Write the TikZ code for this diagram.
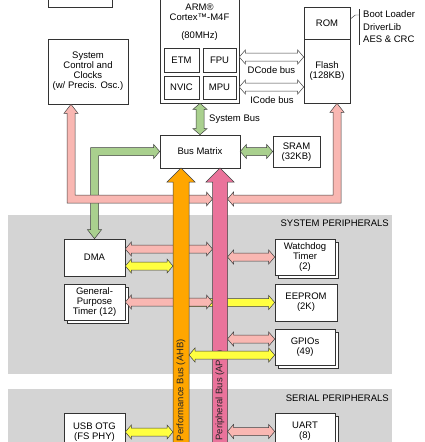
\documentclass[tikz,border=0pt]{standalone}
\usepackage{fontspec}
\setmainfont{Liberation Sans}
\usetikzlibrary{calc, positioning, shadows}

\definecolor{PanelGray}{RGB}{212,212,212}
\definecolor{LinkPink}{RGB}{249,183,178}
\definecolor{BusPink}{RGB}{234,115,155}
\definecolor{BusOrange}{RGB}{255,166,0}
\definecolor{LinkYellow}{RGB}{255,255,64}
\definecolor{LinkGreen}{RGB}{169,208,142}

\tikzset{
  blk/.style={draw=black!80, fill=white, line width=0.6pt, align=center, inner sep=0pt},
  stackbox/.style={blk, copy shadow={shadow xshift=3pt, shadow yshift=-3pt, draw=black!80, fill=white, line width=0.6pt}},
  lbl/.style={inner sep=0pt},
  fat/.style={draw=black!75, line width=0.5pt, line join=miter},
}

% block arrows: #1 left/top end, #2 right/bottom end, #3 fill
\newcommand\hdbl[3]{\filldraw[fat,fill=#3] (#1) -- ++(6,-7) -- ++(0,3) -- ($(#2)+(-6,-4)$) -- ++(0,-3) -- (#2) -- ++(-6,7) -- ++(0,-3) -- ($(#1)+(6,4)$) -- ++(0,3) -- cycle;}
\newcommand\hsgl[3]{\filldraw[fat,fill=#3] ($(#1)+(0,-4)$) -- ($(#2)+(-6,-4)$) -- ++(0,-3) -- (#2) -- ++(-6,7) -- ++(0,-3) -- ($(#1)+(0,4)$) -- cycle;}
\newcommand\vdbl[3]{\filldraw[fat,fill=#3] (#1) -- ++(7,6) -- ++(-3,0) -- ($(#2)+(4,-6)$) -- ++(3,0) -- (#2) -- ++(-7,-6) -- ++(3,0) -- ($(#1)+(-4,6)$) -- ++(-3,0) -- cycle;}

\begin{document}
\begin{tikzpicture}[x=1pt, y=-1pt, font=\fontsize{9.5}{10}\selectfont]
  \useasboundingbox (0,0) rectangle (424,442);
  \clip (0,0) rectangle (424,442);
  % panels
  \fill[PanelGray] (8,215) rectangle (392,374);
  \fill[PanelGray] (8,389) rectangle (392,460);
  \node[lbl, anchor=east] (sysper) at (389,223) {SYSTEM PERIPHERALS};
  \node[lbl, anchor=east] (serper) at (389,398) {SERIAL PERIPHERALS};
  % core, memories
  \node[blk, minimum width=64, minimum height=17] (topbox) at (80,-1.5) {};
  \node[blk, minimum width=79, minimum height=113] (cpu) at (199.5,46.5) {};
  \node[lbl, align=center] (cpuname) at (199.5,12.5) {ARM®\\Cortex™-M4F};
  \node[lbl] (cpuclk) at (199.5,36.5) {(80MHz)};
  \node[blk, minimum width=35, minimum height=24] (etm) at (181.5,60) {ETM};
  \node[blk, minimum width=33, minimum height=24] (fpu) at (219.5,60) {FPU};
  \node[blk, minimum width=35, minimum height=23] (nvic) at (181.5,87.5) {NVIC};
  \node[blk, minimum width=33, minimum height=23] (mpu) at (219.5,87.5) {MPU};
  \node[blk, minimum width=80, minimum height=65] (sysc) at (88,71.5) {System\\Control and\\Clocks\\(w/ Precis. Osc.)};
  \node[blk, minimum width=46, minimum height=32] (rom) at (327,23) {ROM};
  \node[blk, minimum width=46, minimum height=64] (flash) at (327,71) {Flash\\(128KB)};
  \node[blk, minimum width=80, minimum height=33] (bm) at (200,151.5) {Bus Matrix};
  \node[blk, minimum width=47, minimum height=31] (sram) at (296.5,152) {SRAM\\(32KB)};
  \node[lbl, anchor=west] (boot) at (363,14) {Boot Loader};
  \node[lbl, anchor=west] (drvlib) at (363,27) {DriverLib};
  \node[lbl, anchor=west] (aescrc) at (363,39.5) {AES \& CRC};
  \draw[black!80] ($(rom.east)+(0,-4)$) -- ++(5,-4) -- ++(4,0);
  \draw[black!80] (359,9) -- (359,45);
  \node[lbl] (dcode) at (271.5,70) {DCode bus};
  \node[lbl] (icode) at (272,100.5) {ICode bus};
  \node[lbl, anchor=west] (sysbus) at (209,119) {System Bus};
  % peripherals
  \node[blk, minimum width=61, minimum height=37] (dma) at (94.5,257.5) {DMA};
  \node[stackbox, minimum width=61, minimum height=36] (gpt) at (94.5,302) {General-\\Purpose\\Timer (12)};
  \node[blk, minimum width=61, minimum height=38] (usb) at (94.5,432) {USB OTG\\(FS PHY)};
  \node[stackbox, minimum width=60, minimum height=36] (wdt) at (305,257) {Watchdog\\Timer\\(2)};
  \node[blk, minimum width=62, minimum height=37] (eeprom) at (306,302.5) {EEPROM\\(2K)};
  \node[stackbox, minimum width=60, minimum height=36] (gpio) at (305,347) {GPIOs\\(49)};
  \node[stackbox, minimum width=60, minimum height=36] (uart) at (305,431.5) {UART\\(8)};
  % bus coordinates
  \coordinate (ahb) at (181,168);
  \coordinate (apb) at (220,168);
  \coordinate (ahbL) at (173,0);
  \coordinate (ahbR) at (189,0);
  \coordinate (apbL) at (212.5,0);
  \coordinate (apbR) at (227.5,0);
  \coordinate (colS) at (71,0);
  \coordinate (colF) at (337,0);
  \coordinate (rowP) at (0,199);
  \coordinate (rowD) at (0,57);
  \coordinate (rowI) at (0,87);
  \coordinate (rowA) at (0,249);
  \coordinate (rowB) at (0,266);
  \coordinate (rowG) at (0,339);
  \coordinate (rowH) at (0,355);
  % core links
  \hdbl{cpu.east |- rowD}{flash.west |- rowD}{white}
  \hdbl{cpu.east |- rowI}{flash.west |- rowI}{white}
  \vdbl{bm.north |- cpu.south}{bm.north}{LinkGreen}
  \hdbl{bm.east}{sram.west |- bm.east}{LinkGreen}
  \filldraw[fat, fill=LinkGreen] (bm.west) -- ++(-6,7) -- ++(0,-3) -- ($(dma.north |- bm.west)+(4,4)$) -- ($(dma.north)+(4,-9)$) -- ++(3,0) -- (dma.north) -- ++(-7,-9) -- ++(3,0) -- ($(dma.north |- bm.west)+(-4,-4)$) -- ($(bm.west)+(-6,-4)$) -- ++(0,-3) -- cycle;
  \filldraw[fat, fill=LinkPink] (colS |- sysc.south) -- ++(7,9) -- ++(-3,0) -- ($(colS |- rowP)+(4,-4)$) -- ($(apbL |- rowP)+(-6,-4)$) -- ++(0,-3) -- (apbL |- rowP) -- ++(-6,7) -- ++(0,-3) -- ($(colS |- rowP)+(-4,4)$) -- ($(colS |- sysc.south)+(-4,9)$) -- ++(-3,0) -- cycle;
  \filldraw[fat, fill=LinkPink] (colF |- flash.south) -- ++(7,9) -- ++(-3,0) -- ($(colF |- rowP)+(4,4)$) -- ($(apbR |- rowP)+(6,4)$) -- ++(0,3) -- (apbR |- rowP) -- ++(6,-7) -- ++(0,3) -- ($(colF |- rowP)+(-4,-4)$) -- ($(colF |- flash.south)+(-4,9)$) -- ++(-3,0) -- cycle;
  % links behind the buses
  \hdbl{dma.east |- rowA}{apbL |- rowA}{LinkPink}
  \hsgl{ahbR |- eeprom.west}{eeprom.west}{LinkYellow}
  \hdbl{gpt.east}{apbL |- gpt.east}{LinkPink}
  % buses
  \filldraw[fat, fill=BusOrange] (ahb) -- ++(14,14) -- ++(-6,0) -- ++(0,300) -- ++(-16,0) -- ++(0,-300) -- ++(-6,0) -- cycle;
  \filldraw[fat, fill=BusPink] (apb) -- ++(14,14) -- ++(-6.5,0) -- ++(0,300) -- ++(-15,0) -- ++(0,-300) -- ++(-6.5,0) -- cycle;
  \node[lbl, rotate=90, anchor=east, text=black!85] (ahblab) at (181,339) {Performance Bus (AHB)};
  \node[lbl, rotate=90, anchor=east, text=black!85] (apblab) at (220,350) {Peripheral Bus (APB)};
  % links to the buses
  \hdbl{dma.east |- rowB}{ahbL |- rowB}{LinkYellow}
  \hdbl{apbR |- wdt.west}{wdt.west}{LinkPink}
  \hdbl{apbR |- rowG}{gpio.west |- rowG}{LinkPink}
  \hdbl{ahbR |- rowH}{gpio.west |- rowH}{LinkYellow}
  \hdbl{usb.east}{ahbL |- usb.east}{LinkYellow}
  \hdbl{apbR |- uart.west}{uart.west}{LinkPink}
\end{tikzpicture}
\end{document}
